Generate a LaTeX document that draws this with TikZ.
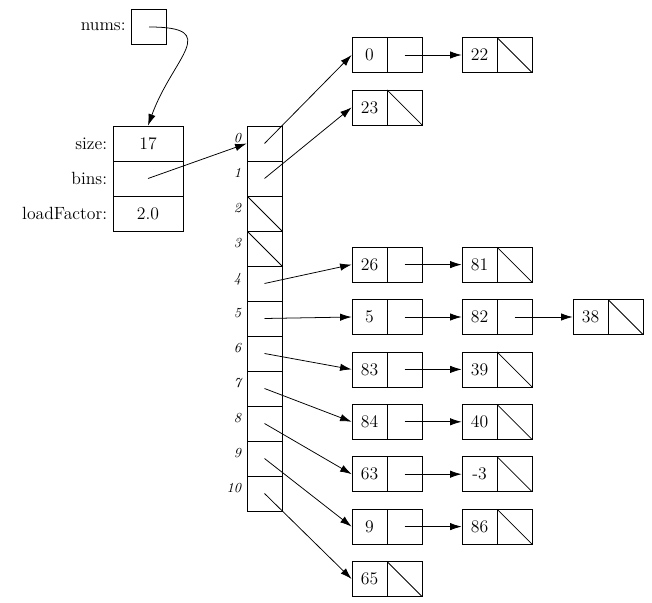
\documentclass[tikz,border=0pt]{standalone}
\usetikzlibrary{arrows.meta}
\begin{document}
\begin{tikzpicture}
  [x=0.022857cm, y=-0.022857cm, line width=0.5pt,
   node distance=0.8cm, font=\fontsize{11.5}{14}\selectfont,
   cell/.style = {draw, minimum size=0.8cm, inner sep=0pt},
   nil/.style = {cell, path picture={\draw (path picture bounding box.north west) -- (path picture bounding box.south east);}},
   field/.style = {draw, minimum width=1.6cm, minimum height=0.8cm, inner sep=0pt},
   idx/.style = {font=\fontsize{9}{11}\selectfont\itshape, anchor=north east, yshift=-1.5pt},
   ptr/.style = {-{Latex[length=7.5pt, width=4.8pt]}}]
  \useasboundingbox (0,0) rectangle (652,603);
  % the table
  \node[cell] (nums) at (149,27) [label={left:{nums:}}] {};
  \node[field] (size) at (148,143.5) [label={left:{size:}}] {17};
  \node[field] (bins) [below of=size, label={left:{bins:}}] {};
  \node[field] (lf) [below of=bins, label={left:{loadFactor:}}] {2.0};
  % the bins
  \node[cell] (b0) at (264.5,143.5) [label={[idx]north west:0}] {};
  \node[cell] (b1) [below of=b0, label={[idx]north west:1}] {};
  \node[nil] (b2) [below of=b1, label={[idx]north west:2}] {};
  \node[nil] (b3) [below of=b2, label={[idx]north west:3}] {};
  \node[cell] (b4) [below of=b3, label={[idx]north west:4}] {};
  \node[cell] (b5) [below of=b4, label={[idx]north west:5}] {};
  \node[cell] (b6) [below of=b5, label={[idx]north west:6}] {};
  \node[cell] (b7) [below of=b6, label={[idx]north west:7}] {};
  \node[cell] (b8) [below of=b7, label={[idx]north west:8}] {};
  \node[cell] (b9) [below of=b8, label={[idx]north west:9}] {};
  \node[cell] (b10) [below of=b9, label={[idx]north west:10}] {};
  % the lists
  \node[cell] (v0) at (369.5,55) {0};
  \node[cell] (p0) [right of=v0] {};
  \node[cell] (v22) at (479.5,55) {22};
  \node[nil] (p22) [right of=v22] {};
  \node[cell] (v23) at (369.5,107.4) {23};
  \node[nil] (p23) [right of=v23] {};
  \node[cell] (v26) at (369.5,264.6) {26};
  \node[cell] (p26) [right of=v26] {};
  \node[cell] (v81) at (479.5,264.6) {81};
  \node[nil] (p81) [right of=v81] {};
  \node[cell] (v5) at (369.5,317) {5};
  \node[cell] (p5) [right of=v5] {};
  \node[cell] (v82) at (479.5,317) {82};
  \node[cell] (p82) [right of=v82] {};
  \node[cell] (v38) at (590.5,317) {38};
  \node[nil] (p38) [right of=v38] {};
  \node[cell] (v83) at (369.5,369.4) {83};
  \node[cell] (p83) [right of=v83] {};
  \node[cell] (v39) at (479.5,369.4) {39};
  \node[nil] (p39) [right of=v39] {};
  \node[cell] (v84) at (369.5,421.8) {84};
  \node[cell] (p84) [right of=v84] {};
  \node[cell] (v40) at (479.5,421.8) {40};
  \node[nil] (p40) [right of=v40] {};
  \node[cell] (v63) at (369.5,474.2) {63};
  \node[cell] (p63) [right of=v63] {};
  \node[cell] (vm3) at (479.5,474.2) {-3};
  \node[nil] (pm3) [right of=vm3] {};
  \node[cell] (v9) at (369.5,526.6) {9};
  \node[cell] (p9) [right of=v9] {};
  \node[cell] (v86) at (479.5,526.6) {86};
  \node[nil] (p86) [right of=v86] {};
  \node[cell] (v65) at (369.5,579) {65};
  \node[nil] (p65) [right of=v65] {};
  % pointers
  \draw[ptr] (nums.center) to[out=0, in=70, looseness=1.9] (size.north);
  \draw[ptr] (bins.center) -- (b0.west);
  \draw[ptr] (b0.center) -- (v0.west);
  \draw[ptr] (b1.center) -- (v23.west);
  \draw[ptr] (b4.center) -- (v26.west);
  \draw[ptr] (b5.center) -- (v5.west);
  \draw[ptr] (b6.center) -- (v83.west);
  \draw[ptr] (b7.center) -- (v84.west);
  \draw[ptr] (b8.center) -- (v63.west);
  \draw[ptr] (b9.center) -- (v9.west);
  \draw[ptr] (b10.center) -- (v65.west);
  \draw[ptr] (p0.center) -- (v22.west);
  \draw[ptr] (p26.center) -- (v81.west);
  \draw[ptr] (p5.center) -- (v82.west);
  \draw[ptr] (p82.center) -- (v38.west);
  \draw[ptr] (p83.center) -- (v39.west);
  \draw[ptr] (p84.center) -- (v40.west);
  \draw[ptr] (p63.center) -- (vm3.west);
  \draw[ptr] (p9.center) -- (v86.west);
\end{tikzpicture}
\end{document}
